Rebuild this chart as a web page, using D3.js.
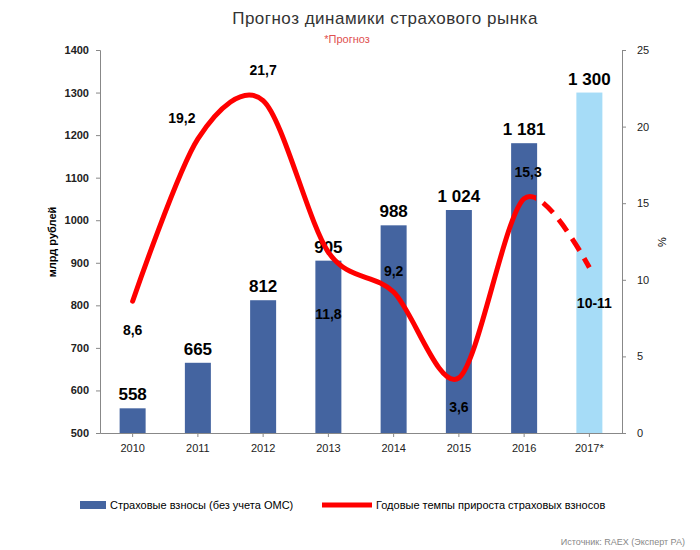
<!DOCTYPE html>
<html><head><meta charset="utf-8">
<script src="https://cdn.jsdelivr.net/npm/d3@7"></script>
<style>body{margin:0;background:#fff;font-family:Arial,"Liberation Sans",sans-serif}</style>
</head><body><svg id="c" width="700" height="550"></svg>
<script>
const years = ["2010","2011","2012","2013","2014","2015","2016","2017*"];
const premiums = [558, 665, 812, 905, 988, 1024, 1181, 1300];
const premiumLabels = ["558","665","812","905","988","1 024","1 181","1 300"];
const growth = [8.6, 19.2, 21.7, 11.8, 9.2, 3.6, 15.3, 10.8];
const growthLabels = ["8,6","19,2","21,7","11,8","9,2","3,6","15,3","10-11"];
// label offsets relative to the curve point (px)
const growthDx = [0, -16, 0, 0, 0, 0, 4, 5];
const growthDy = [34, -16, -26, 67, -16, 34, -22, 40];

const svg = d3.select("#c");
const m = {l: 100, r: 622, t: 50, b: 433};
const x = d3.scaleBand().domain(years).range([m.l, m.r]);
const yL = d3.scaleLinear().domain([500, 1400]).range([m.b, m.t]);
const yR = d3.scaleLinear().domain([0, 25]).range([m.b, m.t]);

svg.append("text").attr("x", 385).attr("y", 24).attr("text-anchor", "middle")
  .attr("font-size", 17).attr("fill", "#333").attr("letter-spacing", 0.5).text("Прогноз динамики страхового рынка");
svg.append("text").attr("x", 347).attr("y", 43).attr("text-anchor", "middle")
  .attr("font-size", 11).attr("fill", "#e05050").text("*Прогноз");

const axL = svg.append("g").attr("transform", `translate(${m.l},0)`)
  .call(d3.axisLeft(yL).tickValues(d3.range(500, 1401, 100)).tickFormat(d3.format("d")).tickSize(4));
const axR = svg.append("g").attr("transform", `translate(${m.r},0)`)
  .call(d3.axisRight(yR).tickValues(d3.range(0, 26, 5)).tickSize(4));
const axB = svg.append("g").attr("transform", `translate(0,${m.b})`)
  .call(d3.axisBottom(x).tickSize(4).tickSizeOuter(0));
[axL, axR, axB].forEach(a => {
  a.selectAll("path,line").attr("stroke", "#888");
  a.selectAll("text").attr("font-size", 11).attr("fill", "#222");
});
axL.selectAll("text").attr("font-weight", "bold").attr("dx", -4);
axR.selectAll("text").attr("dx", 8);
axB.selectAll("text").attr("dy", 12);

svg.append("text").attr("transform", "translate(56,242) rotate(-90)").attr("text-anchor", "middle")
  .attr("font-size", 11).attr("font-weight", "bold").text("млрд рублей");
svg.append("text").attr("transform", "translate(666,242) rotate(-90)").attr("text-anchor", "middle")
  .attr("font-size", 11).text("%");

const bw = 26;
svg.selectAll("rect.bar").data(premiums).join("rect")
  .attr("x", (d, i) => x(years[i]) + x.bandwidth() / 2 - bw / 2)
  .attr("y", d => yL(d)).attr("width", bw).attr("height", d => m.b - yL(d))
  .attr("fill", (d, i) => i === 7 ? "#a6dcf7" : "#4464a0");
svg.selectAll("text.bl").data(premiums).join("text")
  .attr("x", (d, i) => x(years[i]) + x.bandwidth() / 2).attr("y", d => yL(d) - 8)
  .attr("text-anchor", "middle").attr("font-size", 17).attr("font-weight", "bold")
  .text((d, i) => premiumLabels[i]);

const pts = growth.map((g, i) => [x(years[i]) + x.bandwidth() / 2, yR(g)]);
const cut = pts[6][0] + 12;
const defs = svg.append("defs");
defs.append("clipPath").attr("id", "solid").append("rect").attr("x", 0).attr("y", 0).attr("width", cut).attr("height", 550);
defs.append("clipPath").attr("id", "dash").append("rect").attr("x", cut).attr("y", 0).attr("width", 700).attr("height", 550);
const line = d3.line().curve(d3.curveCardinal.tension(0.1));
svg.append("path").attr("d", line(pts)).attr("fill", "none").attr("clip-path", "url(#solid)")
  .attr("stroke", "#f00").attr("stroke-width", 5).attr("stroke-linecap", "round");
svg.append("path").attr("d", line(pts)).attr("fill", "none").attr("clip-path", "url(#dash)")
  .attr("stroke", "#f00").attr("stroke-width", 5).attr("stroke-dasharray", "14,9").attr("stroke-dashoffset", -600);

svg.selectAll("text.gl").data(growth).join("text")
  .attr("x", (d, i) => pts[i][0] + growthDx[i]).attr("y", (d, i) => pts[i][1] + growthDy[i])
  .attr("text-anchor", "middle").attr("font-size", 14).attr("font-weight", "bold")
  .text((d, i) => growthLabels[i]);

// legend
svg.append("rect").attr("x", 80).attr("y", 501).attr("width", 26).attr("height", 8).attr("fill", "#4464a0");
svg.append("text").attr("x", 110).attr("y", 509).attr("font-size", 11).text("Страховые взносы (без учета ОМС)");
svg.append("line").attr("x1", 322).attr("x2", 372).attr("y1", 505).attr("y2", 505).attr("stroke", "#f00").attr("stroke-width", 5);
svg.append("text").attr("x", 376).attr("y", 509).attr("font-size", 11).text("Годовые темпы прироста страховых взносов");
svg.append("text").attr("x", 685).attr("y", 545).attr("text-anchor", "end").attr("font-size", 9)
  .attr("fill", "#888").text("Источник: RAEX (Эксперт РА)");
</script></body></html>
